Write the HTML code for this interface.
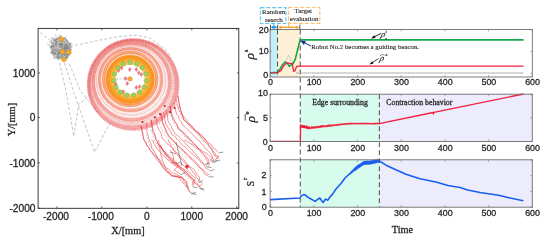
<!DOCTYPE html>
<html><head><meta charset="utf-8"><style>html,body{margin:0;padding:0;background:#fff;width:550px;height:243px;overflow:hidden}svg{display:block}text{stroke:#262626;stroke-width:0.28px}.thin text{stroke:#333;stroke-width:0.16px}</style></head>
<body><svg width="550" height="243" viewBox="0 0 550 243"><g id="left"><polyline points="40.5,32.5 53,43" fill="none" stroke="#a2a2a2" stroke-width="0.65" stroke-dasharray="3,2"/><polyline points="75,45.5 100,40 120,36.5 136.5,35.2 150,38 164.5,48.6 172,58" fill="none" stroke="#a2a2a2" stroke-width="0.65" stroke-dasharray="3,2"/><polyline points="59.5,63 65.8,90 73.8,136.1 78.7,104.4 87.4,97.2 93,92" fill="none" stroke="#a2a2a2" stroke-width="0.65" stroke-dasharray="3,2"/><polyline points="64.5,63 73,90 94.6,152 109,124.6 114,118" fill="none" stroke="#a2a2a2" stroke-width="0.65" stroke-dasharray="3,2"/><polyline points="69.5,64 80,90 88.8,101.5 98,112" fill="none" stroke="#a2a2a2" stroke-width="0.65" stroke-dasharray="3,2"/><polyline points="96,78 128,78" fill="none" stroke="#a2a2a2" stroke-width="0.65" stroke-dasharray="3,2"/></g><ellipse cx="60.8" cy="48.6" rx="10.2" ry="11.2" fill="#b2b2b2" fill-opacity="0.75"/><g fill="none" stroke="#7c7c7c" stroke-width="0.5" stroke-opacity="0.8"><polyline points="58.98,52.61 59.52,51.07 59.65,50.59 58.06,50.62 56.39,50.38"/><polyline points="63.66,50.08 63.39,51.25 62.04,50.26 62.5,51.87 62.77,51.5"/><polyline points="63.04,48.23 64.33,47.47 63.05,46.1 62.36,47.23 61.21,47.53"/><polyline points="56.68,43.2 56.85,41.63 55.27,40.57 55.92,40.31 55.25,40.61"/><polyline points="55.3,50.43 56.36,51.15 55.44,51.42 55.53,52.77 56.35,52"/><polyline points="64.38,48.11 64.09,49.03 62.83,48.99 61.17,49.6 62.13,49.86"/><polyline points="64.97,44.04 65.67,44.38 65.96,44.22 67.19,45.82 67.09,46.41"/><polyline points="68.96,52.2 69.49,53.97 70.65,53.2 70.24,53.81 68.52,53.67"/><polyline points="62.57,52.04 60.98,53.01 59.65,52.1 59.25,53.43 57.74,53.25"/><polyline points="51.4,45.28 52.55,46.59 51.76,46.29 51.25,47.67 52.89,46.41"/><polyline points="63.06,53.58 62.1,53.52 62.42,52.67 60.64,52.38 60.17,52.61"/><polyline points="69.15,45.81 69.2,46.24 69.84,44.63 71.28,45.64 72.63,46.71"/><polyline points="55.63,53.17 54.2,53.65 52.62,52.09 51.58,50.88 51,49.27"/><polyline points="64.88,48.61 63.45,48.12 61.74,49.46 62.15,48.2 61.26,47.65"/><polyline points="58.38,51.65 59.64,53.43 59.51,53.37 58.02,51.94 57.46,51.09"/><polyline points="62.81,44.52 61.09,46.14 61.19,44.87 61.35,43.17 61.45,44.89"/><polyline points="66.52,41.3 65.66,40.82 64.47,41.8 64.58,42.81 63.97,41.81"/><polyline points="64.73,37.98 66,39.08 67.14,39.95 66.16,40.01 65.64,38.32"/><polyline points="66.27,49.67 65.4,50.36 67.04,50.17 68.61,51.93 70.25,51.44"/><polyline points="61.72,54.01 60.63,52.94 61.08,54.38 62.3,54.31 62.85,55.39"/><polyline points="68.15,53.37 69.63,54.38 70.53,54.3 69.37,55.35 68.77,56.43"/><polyline points="67.3,47.31 66.95,48.92 67.76,47.73 66.41,46.48 67.87,47.58"/><polyline points="66.59,56.94 68.32,57.51 67.79,57.69 66.46,55.94 68.15,56.48"/><polyline points="50.8,46.74 50.56,48.08 51.73,47.04 50.84,46.3 49.9,46.61"/><polyline points="60.4,56.06 59.07,57.54 58.55,57.39 58.85,58.84 58.56,60.35"/><polyline points="53.14,48.51 53.23,46.78 53.01,45.64 51.23,46.72 50.05,46.62"/><polyline points="59.58,40.09 58.96,40.15 59.16,41.18 57.74,41.39 56.83,40.59"/><polyline points="61.84,40.45 62.07,41.39 63.55,41.18 63.96,41.2 64,41.9"/><polyline points="53.47,51.09 53.39,52.68 54.11,54.03 55.7,53.17 55.92,54.76"/><polyline points="62.88,44.99 61.52,44.78 59.98,43.85 58.45,44.46 59.47,45.89"/><polyline points="65.82,56.66 66.4,55.38 67.78,57.06 66.77,58.69 66.4,58.65"/><polyline points="70.36,47.93 69.14,47.68 69.2,47.1 68.1,46.45 68.9,44.72"/><polyline points="54.23,46.05 52.49,45.44 52.94,45.48 51.37,47.23 52.41,48.93"/><polyline points="65.08,52.24 63.42,53.25 62.6,51.91 62.32,53.39 63.46,52.52"/><polyline points="66.75,57.53 67,58.25 65.53,56.66 66.2,56.39 64.66,57.97"/><polyline points="54.56,40.87 53.06,42.15 51.5,43.46 51.33,42.88 51.52,44.41"/><polyline points="60.38,52.73 60.47,51.78 59.07,50.57 57.45,49.49 56.77,48.79"/><polyline points="61.14,42.39 61.14,41.23 60.59,39.5 59.69,37.75 60.53,37.94"/><polyline points="63.49,55.99 65.05,54.57 66.2,54.33 66.18,55.53 65.8,55.56"/><polyline points="56.83,38.02 56.27,39.21 57.01,39.7 56.67,39.15 55.06,37.82"/><polyline points="68.96,52.87 68.08,51.66 66.58,52.89 67.92,53.5 67.13,52.58"/><polyline points="58.9,56.14 57.67,55.95 56.81,57.61 58.51,57.78 57.59,59.46"/><polyline points="58.51,55.02 56.71,54.59 56.62,54.6 55.54,54.62 53.76,53.77"/><polyline points="66.41,52.5 64.76,50.78 64.05,49.82 64.36,49.93 65.26,50.49"/><polyline points="58.71,38.02 58.31,37.39 60.06,36.13 60.87,36.64 59.22,37.85"/><polyline points="67.27,42.86 68.11,43.98 66.82,44.06 66.83,45.27 67.93,46.45"/><polyline points="52.23,43.1 52.89,43.8 51.92,42.11 50.6,41.61 49.17,42.82"/><polyline points="53.04,45.31 53.49,45.96 53.45,44.17 54.52,45.07 54.54,45.19"/><polyline points="59.34,46.1 60.2,45.21 58.66,44.36 59.49,43.3 60.35,45.02"/><polyline points="54.31,48.87 54.23,49.53 55.2,49.95 55.71,48.43 54.44,47.55"/><polyline points="60.55,42.23 60.8,40.48 59.22,39.65 59.83,40.34 60.47,39.58"/><polyline points="53.68,47.78 53.56,46.41 54.98,45.33 56.7,46.9 54.96,46.75"/><polyline points="65.19,38.31 65.01,37.48 63.97,39.09 62.92,39.38 61.64,39.47"/><polyline points="64.46,47.37 65.61,47.4 67,48.13 66.03,49.56 65.98,47.85"/><polyline points="68.16,48.78 67.98,48.07 66.69,47.51 66.03,48.73 64.23,49.64"/><polyline points="62.73,45.21 64.27,45.98 65.71,45.22 65.25,44.83 67.05,45.16"/><polyline points="56.4,54.4 55.59,52.77 54.15,53.98 53.38,55.55 52.48,54.7"/><polyline points="56.24,48.25 55.78,49.9 57.16,51.02 57.63,52.51 59.22,52.68"/><polyline points="60.36,46.08 61.19,45.9 62.1,46.42 61.33,44.8 62.87,43.46"/><polyline points="54.74,49.78 54.01,50.64 55.73,49.77 56.29,49.06 56.49,48.68"/><polyline points="62.9,52.63 61.84,54.09 61.83,53.08 63.3,54.87 63.12,53.57"/><polyline points="61.92,51.85 61.35,50.38 60.41,49.51 60.66,50.91 61.56,50.59"/><polyline points="54.28,52.91 53.84,52.32 52.26,51.52 53.95,50.18 53.96,50.64"/><polyline points="63.98,44.53 63.15,43.62 62.79,43.43 64.43,44.68 65.77,42.96"/><polyline points="69.46,50.56 70.89,50.46 71.2,48.66 70.81,50.2 71.98,51.48"/><polyline points="65.95,47.6 64.55,46.36 64.63,47.01 66.22,47.81 66.75,48.76"/><polyline points="53.28,50.87 51.62,51.89 50.66,53.4 51.18,52.69 49.85,51.8"/><polyline points="55.05,41.31 53.65,39.76 53.74,40.06 53.34,39.06 53.7,37.3"/><polyline points="58.53,56.03 60.19,56.55 61.57,56.46 60.61,55.55 62.27,56.29"/><polyline points="60.25,50.2 60.25,50.82 59.96,49.95 60.56,51.48 59.58,49.8"/><polyline points="57.22,54.97 57.88,53.89 58.95,54.75 58.97,53.69 60.66,53.01"/><polyline points="62.95,43.58 61.95,44.52 61.21,46.14 61.19,45.02 60.2,44.72"/><polyline points="55.61,38.91 54.34,38.52 53.3,40.23 52.01,38.62 50.43,38.23"/><polyline points="68.72,42.12 69.56,43.91 71.11,43.29 69.98,44.86 70.86,43.18"/><polyline points="57.49,42.5 57.04,41.89 55.85,40.1 55.05,39.57 56.69,38.21"/><polyline points="65.46,47.43 64.95,48.59 66.1,48.34 64.48,48.25 64.02,49.76"/><polyline points="63.02,55.13 64.45,53.44 64.13,54.56 65.09,52.91 63.41,51.33"/><polyline points="65.47,45.78 66.36,47.22 65.78,46.4 67.42,46.82 66.57,47.6"/><polyline points="58.56,54.14 56.78,55.06 58.28,55.55 59.87,53.83 58.91,53.74"/><polyline points="70.68,45.57 70.27,44.68 70.02,44.65 71.56,43.51 72.65,44.37"/><polyline points="64.87,39.49 65.26,38.87 64.61,38.37 65.63,36.86 64.54,37.77"/><polyline points="60.85,51.54 59.17,51.73 58.54,53.46 59.92,55.21 59.07,53.72"/><polyline points="66.89,53.24 67.65,53.05 66.69,52.75 67.13,53.38 68.02,54.63"/><polyline points="58.93,45.15 60.16,44.4 60.4,43.95 61.25,42.86 60.34,41.95"/><polyline points="66.44,57.52 66.72,56.89 66.34,58.67 66.37,57.7 67.48,58.25"/><polyline points="64.15,48.39 64.06,49.54 65.29,51.03 63.63,50.29 62.26,49.17"/><polyline points="68.7,47.11 70.25,46.65 71.57,46.47 70.71,47.47 72.31,46.05"/><polyline points="54,43.43 52.98,42.96 51.69,41.9 50.81,42.25 51.35,41.19"/><polyline points="66.79,49.07 67.43,47.94 66.76,46.87 67.82,47.04 66.25,45.61"/><polyline points="54.64,53.84 55.14,52.37 53.93,53.07 53.6,52.29 52.91,53.92"/><polyline points="57.78,56.63 57.27,56.33 58.58,58.12 58.09,57.03 58.91,55.96"/><polyline points="70.76,49 70.49,50.16 70.15,51.54 70.01,50.32 68.26,50.51"/><polyline points="54.45,40.08 52.97,40.52 52.5,40.54 51.23,39.76 51.31,41.29"/><polyline points="66.5,53.71 67.6,55.39 66.51,54.05 68.1,55.76 68.04,54.15"/><polyline points="66.65,45.38 68.1,45.81 69.27,44.59 70.3,43.59 69.96,44.84"/><polyline points="62.94,44.26 61.93,43.9 61.99,43.48 60.64,42.57 61.45,44"/><polyline points="68.41,50.81 69.34,49.15 70.56,47.77 70.92,47.95 71.37,47.26"/><polyline points="53.77,52.84 53.51,53.42 53.32,53.19 51.6,53.62 51.56,52.67"/><polyline points="61.59,38.44 61.44,37.28 61.34,35.87 60.01,35.62 58.54,35.41"/><polyline points="58.68,48.45 59.18,46.95 60.02,47.95 60.06,46.34 60.07,45.9"/><polyline points="64.49,47.3 65.78,49.09 66.61,50.23 65.51,51.96 65.48,53.6"/><polyline points="64.49,46.24 65.52,47.79 63.96,47.25 64.88,46.02 66.31,45.21"/><polyline points="62.39,44.59 62.4,46.1 61.35,45.25 61.37,44.6 59.71,43.45"/><polyline points="66.18,58.08 66.82,59.51 65.63,60.53 64.25,60.64 64.74,60.14"/><polyline points="66.26,42.44 66.55,43.81 65.13,45.59 65.59,45.21 66.66,44.36"/><polyline points="68.76,48.08 68.26,49.03 68.05,47.87 68.93,46.24 70.08,45.35"/><polyline points="54.12,39.81 54.43,40.4 53.76,38.6 52.08,37.34 52.5,37.1"/><polyline points="50.9,47.73 49.57,46.75 50.12,45.03 48.33,44.51 46.91,43.99"/><polyline points="62.09,57.31 62.41,56.24 62.86,56.15 61.54,57.72 60.62,56.46"/><polyline points="67.71,53.82 69.05,54.84 68.7,53.99 66.94,54.51 67.16,53.97"/><polyline points="56.53,42.5 58.11,43.34 57.2,44.8 55.56,44.91 55.22,43.97"/><polyline points="69.45,52.26 67.69,52.44 69.28,51.15 68.2,51.54 68.23,52.05"/><polyline points="62.5,44.15 61.82,43.43 60.19,44.83 61.21,45.61 59.43,46.85"/><polyline points="60.58,40.73 61.45,40.55 60.47,39.13 59.5,37.47 58.91,38.37"/><polyline points="57.54,38.61 58.3,37.76 58.49,37.53 59.53,37.62 58.69,38.13"/><polyline points="65.57,47.43 66.94,45.69 66.08,44.74 66.96,46.34 67.84,45.71"/><polyline points="65.19,44.07 64.25,45.54 64.72,46.23 65.32,47.96 65.21,49.18"/><polyline points="57.66,38.48 57.43,39.29 57.68,38.6 56.65,39.04 55.13,40.52"/><polyline points="61.86,50.09 60.44,51.64 59.88,50.35 58.19,48.7 58.88,49.18"/><polyline points="57.85,39.23 56.29,39.56 55.8,40.7 56.95,42.11 55.39,43.43"/><polyline points="69.56,42.85 68.15,41.79 66.75,40.12 68,41.24 68.49,42.41"/><polyline points="56.99,44.05 55.55,42.6 56.47,41.54 55.82,41.26 54.1,40.39"/><polyline points="58.99,58.17 58.52,57.52 60.19,57.54 61.45,57.96 59.77,57.65"/><polyline points="52.29,52.55 51.74,53.28 51.88,52.26 53.18,50.79 54.33,49.6"/><polyline points="65.52,48.64 66.46,50.36 64.68,50.33 64.65,51.4 63.51,51.38"/><polyline points="55.31,57.23 54.45,58.83 53.67,57.8 54.39,57.8 52.98,58.29"/><polyline points="68.94,53.59 69.65,54.62 70.11,54.1 69.76,53.72 71.16,52.23"/><polyline points="62.07,47.42 61.02,46.57 62.46,46.57 62.03,47.95 61.07,47.81"/><polyline points="51.86,46.62 52.77,47.15 52.22,46.53 50.98,47.76 51.57,48.63"/><polyline points="64.17,55.29 65.15,55.58 63.81,55.44 65.19,54.5 64.08,53.78"/><polyline points="58,38.45 56.76,37.21 55.85,36.58 55.93,35.36 55.31,34.25"/><polyline points="69.65,47.07 68.22,48.73 66.79,48.31 68.53,49.38 69.37,49.14"/><polyline points="63.58,57.3 62.17,56.25 61.76,54.57 61.4,55.62 62.1,55.62"/><polyline points="55.99,42.79 54.7,43.16 54.35,44.03 55.82,43.78 56.09,44.68"/><polyline points="56.38,51.23 57.18,52.59 58.17,53.31 59.44,53.96 59.95,53.79"/><polyline points="57.59,57.05 56.14,56.76 57.16,57.52 57.63,56.62 57.35,56.46"/><polyline points="55.95,43.49 56.58,45.04 55.44,45.59 56.44,45.19 56.4,46.9"/><polyline points="68.32,50.62 67.1,51.64 68.68,51.7 67.25,51.97 67.4,52.76"/><polyline points="52.43,47.89 53.61,47.97 53.29,49.58 52.25,50.25 51.86,51.19"/><polyline points="68.29,56.57 67.77,54.97 66.95,54.61 65.2,54.32 64.92,55.03"/></g><circle cx="61.5" cy="39.1" r="2.3" fill="#f7a823" stroke="#d08a18" stroke-width="0.4"/><circle cx="62.2" cy="51.5" r="2.3" fill="#f7a823" stroke="#d08a18" stroke-width="0.4"/><circle cx="68.9" cy="52.2" r="2.3" fill="#f7a823" stroke="#d08a18" stroke-width="0.4"/><circle cx="63.9" cy="59.6" r="2.3" fill="#f7a823" stroke="#d08a18" stroke-width="0.4"/><circle cx="133.1" cy="82.9" r="44" fill="#fffafa"/><circle cx="130.13" cy="78.95" r="26.5" fill="none" stroke="#f9a468" stroke-width="3.2" stroke-opacity="0.9"/><circle cx="130.52" cy="79.67" r="31.2" fill="none" stroke="#f79478" stroke-width="2.5" stroke-opacity="0.8"/><circle cx="131.63" cy="81.7" r="38.3" fill="none" stroke="#f47870" stroke-width="3.0" stroke-opacity="0.55"/><circle cx="132.86" cy="83.96" r="44.0" fill="none" stroke="#f06464" stroke-width="4.0" stroke-opacity="0.3"/><g fill="none" stroke="#e6382c" stroke-width="0.45"><circle cx="130.1" cy="78.9" r="25.6" stroke-opacity="0.55"/><circle cx="130.2" cy="79.08" r="27.8" stroke-opacity="0.4"/><circle cx="130.32" cy="79.3" r="29.3" stroke-opacity="0.55"/><circle cx="130.41" cy="79.46" r="30.2" stroke-opacity="0.4"/><circle cx="130.66" cy="79.92" r="32.3" stroke-opacity="0.55"/><circle cx="130.86" cy="80.3" r="33.8" stroke-opacity="0.4"/><circle cx="131.05" cy="80.64" r="35" stroke-opacity="0.55"/><circle cx="131.32" cy="81.13" r="36.6" stroke-opacity="0.4"/><circle cx="131.46" cy="81.4" r="37.4" stroke-opacity="0.55"/><circle cx="131.81" cy="82.03" r="39.2" stroke-opacity="0.42"/><circle cx="131.99" cy="82.36" r="40.1" stroke-opacity="0.62"/><circle cx="132.18" cy="82.71" r="41" stroke-opacity="0.42"/><circle cx="132.35" cy="83.03" r="41.8" stroke-opacity="0.62"/><circle cx="132.53" cy="83.36" r="42.6" stroke-opacity="0.42"/><circle cx="132.72" cy="83.7" r="43.4" stroke-opacity="0.62"/><circle cx="132.91" cy="84.04" r="44.2" stroke-opacity="0.42"/><circle cx="133.1" cy="84.4" r="45" stroke-opacity="0.62"/></g><circle cx="133.25" cy="84.67" r="45.6" fill="none" stroke="#e0283a" stroke-width="1.3" stroke-dasharray="0.7,0.8" stroke-opacity="0.6"/><circle cx="132.91" cy="84.04" r="44.2" fill="none" stroke="#e02a36" stroke-width="1.1" stroke-dasharray="0.7,0.8" stroke-opacity="0.45"/><circle cx="132.53" cy="83.36" r="42.6" fill="none" stroke="#e02a36" stroke-width="1.0" stroke-dasharray="0.7,0.8" stroke-opacity="0.4"/><circle cx="131.67" cy="81.77" r="38.5" fill="none" stroke="#e02a36" stroke-width="0.8" stroke-dasharray="0.7,0.8" stroke-opacity="0.3"/><circle cx="132.07" cy="82.51" r="40.5" fill="none" stroke="#9a9a9a" stroke-width="0.5" stroke-dasharray="1.4,1.4" stroke-opacity="0.7"/><circle cx="130.97" cy="80.5" r="34.5" fill="none" stroke="#9a9a9a" stroke-width="0.5" stroke-dasharray="1.4,1.4" stroke-opacity="0.55"/><defs><radialGradient id="og" cx="0.5" cy="0.5" r="0.5"><stop offset="0" stop-color="#ffffff"/><stop offset="0.58" stop-color="#ffffff"/><stop offset="0.6" stop-color="#fcd27a"/><stop offset="0.7" stop-color="#fcc050"/><stop offset="0.78" stop-color="#fbad35"/><stop offset="0.86" stop-color="#f89a22"/><stop offset="0.93" stop-color="#f7931e"/><stop offset="1" stop-color="#f79a40"/></radialGradient></defs><circle cx="130.1" cy="79.3" r="24.6" fill="url(#og)"/><line x1="116" y1="78.9" x2="130.1" y2="78.9" stroke="#999" stroke-width="0.6" stroke-dasharray="2,1.5"/><g fill="#f06676" fill-opacity="0.85"><polygon points="121.5,65.43 123.3,67.9 121.5,70.38 119.7,67.9"/><polygon points="129.8,67.03 131.6,69.5 129.8,71.97 128,69.5"/><polygon points="136.3,67.03 138.1,69.5 136.3,71.97 134.5,69.5"/><polygon points="138.8,70.33 140.6,72.8 138.8,75.27 137,72.8"/><polygon points="141.3,72.03 143.1,74.5 141.3,76.97 139.5,74.5"/><polygon points="125.6,76.12 127.4,78.6 125.6,81.07 123.8,78.6"/><polygon points="127.3,81.03 129.1,83.5 127.3,85.97 125.5,83.5"/><polygon points="136.3,85.12 138.1,87.6 136.3,90.07 134.5,87.6"/><polygon points="139.6,84.33 141.4,86.8 139.6,89.27 137.8,86.8"/><polygon points="115.8,81.83 117.6,84.3 115.8,86.77 114,84.3"/><polygon points="123.2,89.23 125,91.7 123.2,94.17 121.4,91.7"/><polygon points="138.8,89.23 140.6,91.7 138.8,94.17 137,91.7"/><polygon points="118.5,68.03 120.3,70.5 118.5,72.97 116.7,70.5"/></g><g fill="#9dd164" stroke="#74a83e" stroke-width="0.4"><circle cx="146.42" cy="80.54" r="2.25"/><circle cx="144.34" cy="87.03" r="2.25"/><circle cx="139.8" cy="92.12" r="2.25"/><circle cx="133.59" cy="94.93" r="2.25"/><circle cx="126.77" cy="94.96" r="2.25"/><circle cx="120.52" cy="92.21" r="2.25"/><circle cx="115.94" cy="87.17" r="2.25"/><circle cx="113.8" cy="80.69" r="2.25"/><circle cx="114.48" cy="73.91" r="2.25"/><circle cx="117.86" cy="67.98" r="2.25"/><circle cx="123.36" cy="63.95" r="2.25"/><circle cx="130.02" cy="62.5" r="2.25"/><circle cx="136.7" cy="63.89" r="2.25"/><circle cx="142.24" cy="67.87" r="2.25"/><circle cx="145.67" cy="73.76" r="2.25"/></g><circle cx="130.1" cy="78.9" r="2.1" fill="#f8b42a" stroke="#e8602a" stroke-width="0.55"/><g fill="none" stroke="#e41a22" stroke-width="0.55" stroke-opacity="0.85"><polyline points="177.86,95.69 178.76,98.66 178.5,101.15 179.3,103.45 179.75,105.95 180.26,108.3 180.53,110.57 181.63,113.02 182.34,115.54 183.25,117.39 183.76,119.68 185.59,121.2 187.17,122.88 188.79,124.8 190.44,126.73 191.56,128.31 193.64,129.72 195.48,131.64 196.89,132.93 199.08,134.28 200.46,136.46 201.58,138.1 203.59,140.1 204.7,141.86 206.3,143.13 208.07,144.44 209.34,146.68 210.43,148.61 211.88,149.98 213.02,152.24 213.74,153.94 214.93,156.05 216.79,156.81 218.29,157.91 216.5,158.79 215,160"/><polyline points="174.01,102.43 174.64,104.76 174.85,106.84 175.32,109.58 176.12,112.26 176.59,114.2 178.35,116.04 178.59,117.82 179.56,119.72 181.38,122.1 182.14,124.26 184.04,125.77 185.44,127.45 187.18,129.09 188.83,130.41 190.48,132.3 192.24,133.64 193.28,135.15 195.39,137.52 196.85,138.6 198.58,140.54 199.91,141.64 201.25,143.36 202.84,144.94 204.88,147.39 206.1,149.06 207.84,150.66 210.28,153.07 211.88,155.45 212.56,157.9 211.58,159.39 210,160"/><polyline points="170.43,105.98 170.42,108.14 171.13,110.74 171.19,113.06 171.55,116.17 172.66,118.42 173.63,120.33 174.67,121.57 176.2,123.77 177.21,125.72 177.6,128.25 179.86,129.99 181.54,130.96 183.12,133.19 184.63,135.06 186.11,136.75 188.2,137.56 189.23,139.8 191.62,140.96 192.83,143.21 194.37,144.99 196.32,145.94 197.88,148.07 199.54,150.16 200.88,152.27 202.68,154.13 204.52,155.93 205.9,158.26 207.4,161.26 208.06,163.81 206.6,165.43 206,166"/><polyline points="166.18,110.29 166.35,112.6 167.43,115.3 167.59,117.33 167.94,120.35 168.89,122.17 170.09,124.36 171.28,125.8 171.55,127.79 172.93,130.08 174.28,132.35 175.25,133.97 177.61,135.66 179.06,136.8 180.98,138.94 182.5,140.71 183.86,141.63 185.71,143.93 187.06,145.56 189.39,146.76 190.76,148.83 192.3,150.07 193.78,152.23 195.86,153.96 196.83,156.28 199.04,157.76 200.47,160.36 202.35,162.02 203.31,164.08 204.39,165.72 205.71,168.18 207.38,169.06 209,170"/><polyline points="160.91,114.02 161.18,116.09 162.45,118.89 162.15,121.62 163.26,123.69 164.09,126.26 165.02,128.37 165.58,131.64 167.33,133.59 168.06,135.79 169.92,137.6 171.74,139.57 173.29,141.42 174.45,142.25 176.06,144.05 177.63,145.6 179.72,148 181.3,149.74 183.37,150.61 184.75,152.57 185.99,154.75 187.78,156.06 189.79,158.08 191.49,159.24 192.95,160.69 195.09,163.11 196.08,163.92 197.78,165.87 200.11,168.36 201.8,169.59 203.51,172.19 205.13,174.44 206.1,174.68 208,176"/><polyline points="156.23,117.4 156.56,119.02 156.88,121.63 156.84,123.44 157.38,125.46 157.98,127.7 158.76,129.68 160.16,131.56 161.2,133.73 161.58,136.38 162.75,138.39 164.33,140.35 165.34,141.62 166.97,143.72 169.31,145.12 170.62,146.52 172.62,148.31 174.12,149.68 175.42,151.27 177.53,153.38 178.68,155.33 180.46,156.59 182.02,158.13 184.31,159.85 185.37,161.66 187.17,163.7 188.65,165.43 190.27,167.02 192.48,168.07 193.98,169.81 195.28,171.73 196.88,174.44 198.95,176.38 199.64,177.81 199.36,179.6 198,182"/><polyline points="151.2,119.81 151.83,121.96 152.08,124.66 151.88,126.75 152.9,129.62 152.72,131.94 154.37,134.15 155.06,136.47 155.71,139.44 157.19,141.33 157.62,143.63 159.7,146 161,147.74 162.9,150.19 164.68,152.07 165.73,153.61 167.88,155.58 169.53,156.93 171.28,158.85 172.97,160.99 174.33,161.9 176.37,163.98 178,165.46 179.05,167.63 180.88,168.7 182.55,170.75 183.89,172.35 185.95,174.01 187.33,175.86 189.62,177.66 190.84,179.19 192.56,180.89 193.94,182.67 196.41,184 197.51,185.53 199,187"/><polyline points="146.03,122.57 146.82,125.35 146.51,127.84 146.98,131.09 147.18,133.04 148.18,135.73 148.37,138.49 149.67,140.82 150.58,142.84 151.53,145.8 151.59,147.66 153.19,150 154.2,151.66 155.52,153.67 156.88,156.32 157.68,158.07 159.72,159.7 161.29,162.39 162.4,163.93 164.31,166.02 165.91,167.9 168.25,168.85 169.77,170.35 171.94,172.43 174.27,173.37 176.28,174.31 177.6,175.02 180.41,176.39 181.77,177.93 184.12,179.88 186.03,181.61 186.61,184.67 186.9,187.01 188.42,190.25 189.89,191.62 191,193"/><polyline points="141.28,126.35 141.85,127.91 142.13,130.46 142.66,132.8 143.04,135.72 143.61,137.44 144.02,139.94 145.61,141.81 146.22,144.13 147.26,146.08 149.21,148.01 149.79,149.97 151.53,151.68 152.66,153.67 154.31,155.92 155.81,157.77 157.63,160.54 160.31,163.1 161.73,165.47 163.06,167.86 164.96,170.04 166.85,171.47 168.33,172.77 170,174.51 171.89,176.08 174.23,176.53 177.66,177.1 180.05,177.99 181.14,180.44 182.48,182.24 184,184"/><polyline points="151.69,139.61 153.53,141.95 154.01,143.9 155.55,146.21 156.45,147.75 158.41,150.21 159.29,151.45 161.07,153.36 162.9,155.11 164.69,156.42 166.21,158.22 168.23,159.98 170.26,162.19 172.37,163.66 174.33,162.55 176.24,162.08 177,164.42 178.06,165.93 176.26,168.34 174.1,169.89 175.96,171.3 178.2,172.48 180,174"/><polyline points="159.9,145.05 161.23,147.17 162.93,149.98 164,151.95 165.22,153.82 166.68,156.07 168.57,157.63 170.38,159.84 172.31,162.3 174.41,163.73 175.93,166.37 177.56,166.93 180.06,168.66 182.38,170.25 184.03,171.78 186.02,172.68 188.17,173.9 189.87,176.09 191.87,178.4 194.16,180.02 192.64,182.89 192,186"/><polyline points="167.91,140.06 169.07,142.34 170.42,143.99 170.95,146.11 172.45,147.86 173.53,150.28 174.7,151.84 176.93,154.29 178.01,155.65 180.36,158.17 182.29,160.44 184.35,161.93 185.69,163.81 188.01,166 189.72,167.71 191.62,170.09 192.87,172.44 194.62,173.59 195.92,176.26 197.33,178.17 198.55,179.82 200.81,182.08 202.15,183.73 200.5,185.55 199,187"/><polyline points="175.79,99.13 176.63,101.65 177.27,103.32 177.46,105.29 178.63,107.45 178.64,109.7 180.42,112.29 181.9,114.28 182.81,115.56 184.84,117.84 186.19,119.87 187.37,121.46 188.97,123.7 191.07,124.86 192.62,126.56 193.93,128.68 196.07,130.41 197.61,131.77 199.11,132.92 201.39,135.32 202.5,137.03 204.62,138.16 206.09,140.41 207.6,142 208.97,143.1 211,144.55 212.23,146.74 213.99,148.26 215.77,149.71 218,152"/><polyline points="162.87,111.72 164.02,114.21 164.26,116.45 164.83,119.1 165.31,121.21 165.66,124.29 167.07,125.77 168.12,127.81 169.36,129.58 170.95,131.86 171.69,134.19 173.3,135.46 175.63,137 176.95,139.3 178.94,140.36 180.2,142.53 181.89,144.41 183.4,146.07 185.34,147.09 186.96,148.67 188.85,150.45 190.69,152.41 191.88,153.77 194.1,155.49 196.34,157.16 198.01,159.29 199.79,161.24 201.9,162.64 204,164"/><polyline points="158.66,139.83 158.9,142.09 159.11,145.25 159.64,147.55 159.85,149.92 160.48,152.33 160.82,154.41 161.59,156.99 162.18,159.88 163.08,162.03 164.41,164.81 165.14,167.33 165.91,168.54 167.26,170.64 169.27,172.09 170.48,174.1 172.18,175.47 174.81,175.89 177.12,176.06 179.15,177.05 182.21,177.19 183.25,178.25 185.03,180.06 186.82,181.89 186.99,184.26 187.92,186.58 188.51,189.36 189.59,190.93 190.6,193"/><polyline points="183.94,140.17 185.86,140.75 188.3,142.65 189.81,143.19 192.32,144.9 193.59,145.77 195.65,147.46 197.74,148.77 200.22,149.23 202.18,150.7 204.22,152.3 205.8,153.17 208.4,155.01 210.39,156.79 212.21,158.46 214.12,159.66 212.6,161.03 212,162"/><polyline points="169.94,150.01 171.39,151.66 172.24,153.59 173.18,156.28 173.79,158.04 173.42,160.12 172.04,161.77 173.6,163.37 175.92,164.73 177.83,163.17 180.19,162.15 181.76,163.77 184.01,165.95 186.39,167.87 188,170"/><polyline points="177.82,95.91 178.11,98.16 178.72,100.93 179.35,103.43 179.44,105.88 180.26,108.24 181.25,111.02 181.49,112.97 182.55,115.34 183.11,117.85 184.07,120.67 186.34,121.95 188.27,124.08 190.35,125.61 192.13,127.28 194.66,129.51 195.53,131.05 198.04,132.48 198.95,133.98 200.94,135.27 202.73,136.68 204.52,139.08 205.71,141.18 207.19,142.39 208.27,144.12 209.53,146.53 211.71,147.93 212.58,150.07 214.76,152.95 215.74,155.44 217.92,156.2 219.05,156.5 218.09,157.5 216.38,158.54"/><polyline points="169.88,106.26 170.44,108.95 170.89,110.68 171.75,113.64 172.53,116.15 173.65,118.39 174.32,120.02 175.06,121.87 176.48,123.7 177.62,125.8 178.44,128.55 179.83,129.29 181.86,131.01 183.82,132.42 185.63,134.77 187.29,135.96 188.55,137.75 190.46,139.4 192.01,141.28 194.01,143.5 195.94,144.77 197.1,146.88 199.05,148.67 200.36,150.24 202.13,152.38 204.36,154.59 205.91,156.46 207.65,157.95 208.26,159.6 208.89,162.25 209.3,164.38 209.01,165.45 207.73,166.61"/><polyline points="161.13,113.49 161.42,116.6 161.7,118.56 162.85,121.38 162.88,124.15 164.19,126.33 165.28,128.53 166.46,130.66 167.11,132.72 168.86,135.3 169.86,137.43 171.7,138.58 173.66,140.57 175.33,142.68 176.8,144.54 178.41,146.33 180.54,147.47 182.09,148.99 183.83,151.23 185.64,152.62 187.53,153.61 189.45,155.69 190.36,157.57 192.33,158.76 194.55,160.9 196.09,162.31 197.8,164.02 199.02,166.09 200.64,168.04 202.63,169.53 204.89,171.39 206.86,173.31 208.47,174.31 209.76,175.31"/><polyline points="151.38,119.83 151.14,122.04 151.73,124.39 152.47,126.77 152.41,128.68 153.4,131.53 154.24,132.89 155,135.12 155.82,137.93 156.29,140.22 157.66,141.79 158.09,144.15 160.3,146.11 161.29,147.45 162.92,149.99 164.63,151.61 166.36,153.58 168.13,154.73 170.28,156.73 171.81,158.61 173.74,159.54 174.89,161.31 176.73,163.6 178.69,164.52 179.83,166.89 181.98,168.18 183.49,169.63 185.52,171.51 187.24,173.38 188.22,174.82 190.05,177.03 192.08,177.97 193.4,179.96 195.36,181.85 196.99,183.35 198.24,184.97 200.27,186.32"/><polyline points="140.85,125.35 141.5,128.7 141.66,130.42 142.76,133.02 142.93,135.7 143.46,138.25 144.23,141.08 145.89,142.22 146.74,144.85 148.26,146.83 149.29,148.68 150.28,150.33 152.23,152.54 153.91,154.04 154.88,155.79 156.83,157.24 158.14,159.17 159.46,161.29 160.42,163.3 161.96,165.66 163.4,166.88 164.49,168.53 165.89,170.22 167.38,172.33 169.58,173.39 171.49,174.71 172.93,175.94 175.78,176.48 178.9,177.01 181.82,177.14 183.21,179.72 183.85,181.72 185.63,184.37"/><polyline points="160.07,144.66 160.93,146.55 162.05,148.71 162.78,150.44 164.59,152.34 165.57,153.95 167.04,156 169.08,157.79 170.37,159.61 172.63,161.93 174.74,163.05 176.9,165.47 178.85,165.86 181.12,167.77 182.77,168.3 184.71,169.95 187.41,171.34 189.53,172.25 191.07,174.72 193.43,176.4 195.54,178.33 194.39,180.62 193.79,183.04 193.6,185.16"/></g><g fill="none" stroke="#a0a0a0" stroke-width="0.5" stroke-dasharray="2,1.5"><polyline points="170,112 174,124 186,138 198,150"/><polyline points="158,120 163,132 174,146 186,158"/><polyline points="150,126 154,140 164,154 174,166"/><polyline points="176,104 182,118 194,130 204,142"/><polyline points="146,134 150,146 158,158 164,166"/></g><g stroke="#4a4a4a" stroke-width="0.55"><line x1="176" y1="142" x2="182" y2="166"/><line x1="170" y1="152" x2="176" y2="154"/><line x1="215.5" y1="160.8" x2="220.5" y2="160.1"/><line x1="210.5" y1="160.8" x2="215.5" y2="161.0"/><line x1="206.5" y1="166.8" x2="211.4" y2="167.6"/><line x1="209.5" y1="170.8" x2="214.4" y2="169.7"/><line x1="208.5" y1="176.8" x2="213.5" y2="176.8"/><line x1="198.5" y1="182.8" x2="202.9" y2="180.5"/><line x1="199.5" y1="187.8" x2="203.8" y2="190.3"/><line x1="191.5" y1="193.8" x2="196.5" y2="194.4"/><line x1="184.5" y1="184.8" x2="188.7" y2="187.6"/><line x1="180.5" y1="174.8" x2="185.0" y2="172.7"/><line x1="192.5" y1="186.8" x2="197.4" y2="187.7"/><line x1="199.5" y1="187.8" x2="204.3" y2="189.3"/><line x1="218.5" y1="152.8" x2="223.5" y2="152.1"/><line x1="204.5" y1="164.8" x2="209.1" y2="162.9"/><line x1="191.1" y1="193.8" x2="195.8" y2="192.2"/><line x1="212.5" y1="162.8" x2="217.2" y2="161.1"/></g><g fill="#c8202a"><rect x="163.79999999999998" y="105.1" width="1.8" height="1.8"/><rect x="153.9" y="116.39999999999999" width="1.8" height="1.8"/><rect x="141.6" y="121.1" width="1.8" height="1.8"/><rect x="173.7" y="107.1" width="1.8" height="1.8"/><rect x="169.1" y="111.1" width="1.8" height="1.8"/><rect x="159.1" y="113.1" width="1.8" height="1.8"/></g><circle cx="187" cy="166.6" r="1.9" fill="#c62828" fill-opacity="0.85"/><rect x="38.1" y="28.4" width="200.7" height="179.9" fill="none" stroke="#262626" stroke-width="0.9"/><path d="M57,208.3v-2M57,28.4v2M101.8,208.3v-2M101.8,28.4v2M146.9,208.3v-2M146.9,28.4v2M191.8,208.3v-2M191.8,28.4v2M236.7,208.3v-2M236.7,28.4v2M38.1,72.9h2M238.8,72.9h-2M38.1,117.6h2M238.8,117.6h-2M38.1,162.9h2M238.8,162.9h-2M38.1,208.3h2M238.8,208.3h-2" stroke="#262626" stroke-width="0.7" fill="none"/><g font-family="Liberation Sans, Arial, sans-serif" font-size="10.2" fill="#262626"><text x="56" y="220.2" text-anchor="middle">-2000</text><text x="100.8" y="220.2" text-anchor="middle">-1000</text><text x="146.9" y="220.2" text-anchor="middle">0</text><text x="191.8" y="220.2" text-anchor="middle">1000</text><text x="236.7" y="220.2" text-anchor="middle">2000</text><text x="35.5" y="76.5" text-anchor="end">1000</text><text x="35.5" y="121.2" text-anchor="end">0</text><text x="35.5" y="166.5" text-anchor="end">-1000</text><text x="35.5" y="211.9" text-anchor="end">-2000</text></g><text x="128" y="233.5" text-anchor="middle" font-family="Liberation Serif, serif" font-size="10.4" fill="#262626">X/[mm]</text><text transform="translate(14.6,119.6) rotate(-90)" text-anchor="middle" font-family="Liberation Serif, serif" font-size="10.4" fill="#262626">Y/[mm]</text><rect x="270.1" y="29.5" width="7.43" height="47.5" fill="#c2f1f9"/><rect x="277.53" y="29.5" width="22.72" height="47.5" fill="#fef0d5"/><rect x="300.25" y="94.2" width="79.1" height="47.3" fill="#d7fcee"/><rect x="379.35" y="94.2" width="152.95" height="47.3" fill="#ececfc"/><rect x="300.25" y="159.8" width="79.1" height="47.4" fill="#d7fcee"/><rect x="379.35" y="159.8" width="152.95" height="47.4" fill="#ececfc"/><line x1="277.53" y1="29.5" x2="277.53" y2="77.0" stroke="#505050" stroke-width="1" stroke-dasharray="5,3" fill="none"/><line x1="300.25" y1="29.5" x2="300.25" y2="207.2" stroke="#505050" stroke-width="1" stroke-dasharray="5,3" fill="none"/><line x1="379.35" y1="94.2" x2="379.35" y2="207.2" stroke="#505050" stroke-width="1" stroke-dasharray="5,3" fill="none"/><polyline points="270.1,72.9 277.53,72.9 280,70 284,64 288.7,55.1 292,62 294,70 296,73 523.6,73" fill="none" stroke="#9a9a9a" stroke-width="0.9" stroke-dasharray="1,1"/><polyline points="296,73 523.6,73" fill="none" stroke="#f0b070" stroke-width="0.9" stroke-dasharray="1,3" stroke-dashoffset="1"/><polyline points="296,73 523.6,73" fill="none" stroke="#80b8e8" stroke-width="0.9" stroke-dasharray="1,3" stroke-dashoffset="3"/><polyline points="270.1,72.8 277.53,72.4 280,69 282.7,64.5 285.1,62 287.5,63.5 289.4,66.3 291,65.2 293,63.7 295.2,59.4 298.8,45 300.2,39.9 523.6,39.9" fill="none" stroke="#16a84a" stroke-width="1.6"/><polyline points="270.1,72.9 277.53,72.6 281,70.5 284,65.5 287.2,62.6 290.1,63.7 292,63.4 293.7,71.2 295,70.5 296.6,66.6 298,66.1 523.6,66.1" fill="none" stroke="#f0203e" stroke-width="1.25"/><polyline points="270.1,141.3 300.4,141.3 300.6,124.6 301,127.04 301.75,125.49 302.5,127.39 303.25,125.54 304,127.49 304.75,125.73 305.5,127.82 306.25,125.99 307,128.16 307.75,126.55 308.5,128.59 309.25,126.92 310,128.54 310.75,128.49 311.5,126.86 312.25,128.09 313,126.71 313.75,128.29 314.5,126.72 315.25,127.76 316,126.53 316.75,127.96 317.5,126.58 318.25,127.3 319,126.24 319.75,127.49 320.5,125.92 321.25,127.17 322,125.65 322.75,126.94 323.5,125.61 324.25,126.71 325,125.85 325.75,126.58 326.5,125.68 327.25,126.62 328,125.25 328.75,126.29 329.5,124.89 330.25,126.23 331,125.15 331.75,125.97 332.5,125.02 333.25,125.84 334,125.03 334.75,125.41 335.5,124.69 336.25,125.32 337,124.47 337.75,125.24 338.5,124.42 339.25,125.03 340,124.21 340.75,124.23 341.5,124.79 342.25,123.94 343,124.57 343.75,123.84 344.5,124.4 345.25,123.71 346,124.34 346.75,123.48 347.5,124.08 348.25,123.41 349,124.03 349.75,123.15 350.5,123.94 351.25,123.33 352,123.79 352.75,123.41 353.5,123.8 354.25,123.37 355,123.79 355.75,123.42 356.5,123.9 357.25,123.33 358,123.8 358.75,123.25 359.5,123.79 360.25,123.34 361,123.77 361.75,123.28 362.5,123.92 363.25,123.4 364,123.9 364.75,123.29 365.5,123.8 366.25,123.39 367,123.84 367.75,123.27 368.5,123.77 369.25,123.32 370,123.87 370.75,123.84 371.5,123.34 372.25,123.93 373,123.42 373.75,123.93 374.5,123.38 375.25,123.9 376,123.28 376.75,123.78 377.5,123.28 378.25,123.95 379,123.4 379.3,123.6 433,112.5 433.4,114.2 433.8,112.3 523.6,94" fill="none" stroke="#f0203e" stroke-width="1.3" stroke-linejoin="round"/><path d="M301,126.2 L309,128.6" stroke="#f0203e" stroke-width="1.6"/><polyline points="270.1,199.6 300,198 301,196 303.9,194.6 305.5,195.2 307.3,196.9 311,199 315.2,201.4 317.5,199.5 319.8,198 321.5,200.5 323.1,202.5 325.4,199.1 327.7,200.2 330,197 332.2,194.6 336,189 341.2,183.3 345,178 350.3,173.1 351,173.11 351.72,171.31 352.44,171.91 353.16,170.1 353.88,170.7 354.6,168.2 355.32,170.19 356.04,166.99 356.76,168.98 357.48,165.85 358.2,167.97 358.92,164.9 359.64,167.02 360.36,163.94 361.08,166.07 361.8,162.99 362.52,165.11 363.24,162.04 363.96,164.2 364.68,161.55 365.4,164.11 366.12,161.47 366.84,164.03 367.56,161.38 368.28,163.94 369,161.3 369.72,163.86 370.44,161.22 371.16,163.7 371.88,160.93 372.6,163.37 373.32,160.6 374.04,163.04 374.76,160.27 375.48,162.71 376.2,159.95 376.92,162.38 377.64,159.62 378.36,162.05 379.3,160.8 386,165.2 392,168 405.9,174.2 420,178.8 436.8,182.2 448,185.5 460,187.5 467.7,190 480,192.5 498.6,195.2 510,198 523.4,200.8" fill="none" stroke="#1a5ef0" stroke-width="1.6" stroke-linejoin="round"/><rect x="270.1" y="29.5" width="262.2" height="47.5" fill="none" stroke="#6e6e6e" stroke-width="0.9"/><path d="M270.1,77.0v-2M270.1,29.5v2M313.8,77.0v-2M313.8,29.5v2M357.5,77.0v-2M357.5,29.5v2M401.2,77.0v-2M401.2,29.5v2M444.9,77.0v-2M444.9,29.5v2M488.6,77.0v-2M488.6,29.5v2M532.3,77.0v-2M532.3,29.5v2M270.1,29.7h2M532.3,29.7h-2M270.1,51.4h2M532.3,51.4h-2M270.1,73.2h2M532.3,73.2h-2" stroke="#777" stroke-width="0.6" fill="none"/><g font-family="Liberation Sans, Arial, sans-serif" font-size="8.9" fill="#262626"><text x="270.4" y="85.4" text-anchor="middle">0</text><text x="314.1" y="85.4" text-anchor="middle">100</text><text x="357.8" y="85.4" text-anchor="middle">200</text><text x="401.5" y="85.4" text-anchor="middle">300</text><text x="445.2" y="85.4" text-anchor="middle">400</text><text x="488.9" y="85.4" text-anchor="middle">500</text><text x="532.6" y="85.4" text-anchor="middle">600</text></g><rect x="270.1" y="94.2" width="262.2" height="47.3" fill="none" stroke="#6e6e6e" stroke-width="0.9"/><path d="M270.1,141.5v-2M270.1,94.2v2M313.8,141.5v-2M313.8,94.2v2M357.5,141.5v-2M357.5,94.2v2M401.2,141.5v-2M401.2,94.2v2M444.9,141.5v-2M444.9,94.2v2M488.6,141.5v-2M488.6,94.2v2M532.3,141.5v-2M532.3,94.2v2M270.1,94.2h2M532.3,94.2h-2M270.1,117.85h2M532.3,117.85h-2M270.1,141.5h2M532.3,141.5h-2" stroke="#777" stroke-width="0.6" fill="none"/><g font-family="Liberation Sans, Arial, sans-serif" font-size="8.9" fill="#262626"><text x="270.4" y="150.7" text-anchor="middle">0</text><text x="314.1" y="150.7" text-anchor="middle">100</text><text x="357.8" y="150.7" text-anchor="middle">200</text><text x="401.5" y="150.7" text-anchor="middle">300</text><text x="445.2" y="150.7" text-anchor="middle">400</text><text x="488.9" y="150.7" text-anchor="middle">500</text><text x="532.6" y="150.7" text-anchor="middle">600</text></g><rect x="270.1" y="159.8" width="262.2" height="47.4" fill="none" stroke="#6e6e6e" stroke-width="0.9"/><path d="M270.1,207.2v-2M270.1,159.8v2M313.8,207.2v-2M313.8,159.8v2M357.5,207.2v-2M357.5,159.8v2M401.2,207.2v-2M401.2,159.8v2M444.9,207.2v-2M444.9,159.8v2M488.6,207.2v-2M488.6,159.8v2M532.3,207.2v-2M532.3,159.8v2M270.1,159.8h2M532.3,159.8h-2M270.1,175.6h2M532.3,175.6h-2M270.1,191.4h2M532.3,191.4h-2M270.1,207.2h2M532.3,207.2h-2" stroke="#777" stroke-width="0.6" fill="none"/><g font-family="Liberation Sans, Arial, sans-serif" font-size="8.9" fill="#262626"><text x="270.4" y="215.6" text-anchor="middle">0</text><text x="314.1" y="215.6" text-anchor="middle">100</text><text x="357.8" y="215.6" text-anchor="middle">200</text><text x="401.5" y="215.6" text-anchor="middle">300</text><text x="445.2" y="215.6" text-anchor="middle">400</text><text x="488.9" y="215.6" text-anchor="middle">500</text><text x="532.6" y="215.6" text-anchor="middle">600</text></g><g font-family="Liberation Sans, Arial, sans-serif" font-size="8.9" fill="#262626"><text x="268.6" y="33.1" text-anchor="end">20</text><text x="268.6" y="54.4" text-anchor="end">10</text><text x="268.3" y="78.2" text-anchor="end">0</text><text x="267.9" y="96.4" text-anchor="end">10</text><text x="267.9" y="121.3" text-anchor="end">5</text><text x="267.8" y="144.5" text-anchor="end">0</text><text x="266.4" y="178.3" text-anchor="end">2</text><text x="266.4" y="194.5" text-anchor="end">1</text><text x="266.6" y="210.2" text-anchor="end">0</text></g><g transform="translate(253.9,59.5) rotate(-90)" font-family="Liberation Serif, serif" fill="#262626" stroke="#262626" stroke-width="0.2"><text x="0" y="0" font-size="13.5" font-style="italic">ρ</text><text x="7.2" y="-5.9" font-size="7">s</text></g><g transform="translate(254.5,122.5) rotate(-90)" font-family="Liberation Serif, serif" fill="#262626" stroke="#262626" stroke-width="0.2"><text x="0" y="0" font-size="13.5" font-style="italic">ρ</text><text x="8" y="-5.2" font-size="7">e</text><line x1="1.9" y1="-9.3" x2="8.6" y2="-9.3" stroke-width="0.8"/></g><g transform="translate(254.0,186.5) rotate(-90)" font-family="Liberation Serif, serif" fill="#262626" stroke="#262626" stroke-width="0.2"><text x="0" y="0" font-size="10.2">S</text><text x="6.6" y="-7.2" font-size="6.6">r</text></g><text x="402.4" y="233.1" text-anchor="middle" font-family="Liberation Serif, serif" font-size="10.3" fill="#262626">Time</text><g class="thin"><text x="311.3" y="48.7" font-family="Liberation Serif, serif" font-size="6.85" fill="#333">Robot No.2 becomes a guiding beacon.</text></g><line x1="311" y1="46.2" x2="304" y2="42.4" stroke="#1b2a9e" stroke-width="1"/><polygon points="300.4,40.6 306,41.2 303.8,45" fill="#1b2a9e"/><line x1="381" y1="33.4" x2="374" y2="37" stroke="#111" stroke-width="0.9"/><polygon points="371,38.6 374.2,35.2 375.6,38" fill="#111"/><g class="thin" font-family="Liberation Serif, serif" fill="#333"><text transform="translate(380.6,37.4) skewX(-16)" font-size="8.8" font-style="italic" style="stroke:#333;stroke-width:0.15px">ρ</text><text x="385.6" y="33.2" font-size="5">i</text><text x="385.3" y="39.6" font-size="5">s</text></g><line x1="378.6" y1="58.6" x2="372" y2="62.8" stroke="#111" stroke-width="0.8"/><polygon points="369.4,64.4 372,61.2 373.6,63.6" fill="#111"/><g class="thin" font-family="Liberation Serif, serif" fill="#333"><text transform="translate(379.2,60.6) skewX(-16)" font-size="8.8" font-style="italic" style="stroke:#333;stroke-width:0.15px">ρ</text><text x="385.4" y="56.4" font-size="5">s</text></g><path d="M380.2,55.6 Q382.4,53.6 384.6,55.2" fill="none" stroke="#333" stroke-width="0.6"/><rect x="260.5" y="7.6" width="25.4" height="15.9" fill="none" stroke="#5ec8f2" stroke-width="1.2" stroke-dasharray="4,1.8"/><rect x="288.5" y="7.5" width="31.3" height="15.8" fill="none" stroke="#fcc27a" stroke-width="1.2" stroke-dasharray="4,1.8"/><g class="thin" font-family="Liberation Serif, serif" font-size="6.9" fill="#333" text-anchor="middle"><text x="273.8" y="14.3">Random</text><text x="273.9" y="22">search</text><text x="303.2" y="12.9">Target</text><text x="304" y="21.2">evaluation</text></g><line x1="273.8" y1="23.4" x2="273.8" y2="27.3" stroke="#2aa6e0" stroke-width="0.9"/><line x1="288.7" y1="23.3" x2="288.7" y2="27.3" stroke="#f7a530" stroke-width="0.9"/><line x1="272" y1="27.3" x2="276" y2="27.3" stroke="#1e9de0" stroke-width="1.5"/><polygon points="270.7,27.3 273.6,25.6 273.6,29" fill="#1e9de0"/><polygon points="277.2,27.3 274.3,25.6 274.3,29" fill="#1e9de0"/><line x1="280" y1="27.3" x2="297" y2="27.3" stroke="#f59a1b" stroke-width="1.3"/><polygon points="278.2,27.3 281.2,25.7 281.2,28.9" fill="#f59a1b"/><polygon points="299.2,27.3 296.2,25.7 296.2,28.9" fill="#f59a1b"/><path d="M270.5,24.7v5.1M277.6,24.7v5.1M299.8,24.7v5.1" stroke="#444" stroke-width="0.9"/><g font-family="Liberation Serif, serif" font-size="7.8" fill="#262626"><text x="340" y="105.2" text-anchor="middle">Edge surrounding</text><text x="386.3" y="105.2">Contraction behavior</text></g></svg></body></html>
